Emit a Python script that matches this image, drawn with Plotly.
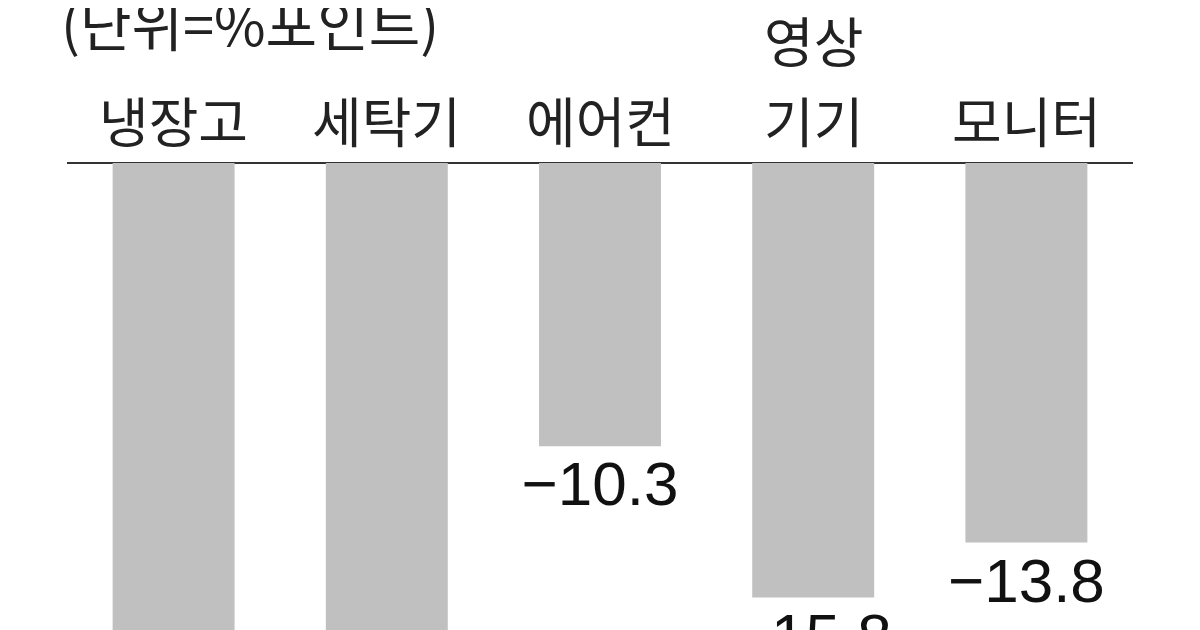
import plotly.graph_objects as go

# 품목별 변화 (단위=%포인트)
categories = ["냉장고", "세탁기", "에어컨", "영상기기", "모니터"]
labels = ["냉장고", "세탁기", "에어컨", "영상<br>기기", "모니터"]
values = [-18.2, -17.6, -10.3, -15.8, -13.8]
unit_note = "(단위=%포인트)"

kr_font = "Noto Sans CJK KR"
num_font = "Liberation Sans, Arial"

value_text = [("−" if v < 0 else "") + f"{abs(v):.1f}" for v in values]

fig = go.Figure()
fig.add_trace(go.Bar(
    x=categories,
    y=values,
    marker=dict(color="#c0c0c0", line=dict(width=0)),
    text=value_text,
    textposition="outside",
    textfont=dict(family=num_font, size=62, color="#111111"),
    constraintext="none",
    cliponaxis=False,
    hoverinfo="skip",
))

# 품목 이름은 기준선 위에 (두 줄 이름은 줄마다 따로)
for cat, lab in zip(categories, labels):
    lines = lab.split("<br>")
    for i, line in enumerate(reversed(lines)):
        fig.add_annotation(
            x=cat, y=0, xref="x", yref="y",
            text=line, showarrow=False,
            yanchor="bottom", yshift=2 + i * 80,
            font=dict(family=kr_font, size=54, color="#222222"),
        )

fig.add_annotation(
    x=0, y=1, xref="paper", yref="paper",
    xanchor="left", yanchor="bottom", xshift=-8, yshift=-56,
    text=unit_note, showarrow=False,
    font=dict(family=kr_font, size=56, color="#222222"),
)

fig.update_layout(
    width=1200, height=630,
    margin=dict(l=59, r=75, t=0, b=0),
    paper_bgcolor="white",
    plot_bgcolor="white",
    bargap=0.428,
    showlegend=False,
    xaxis=dict(visible=False),
    yaxis=dict(
        range=[-17.27, 5.64],
        showgrid=False,
        showticklabels=False,
        zeroline=True,
        zerolinecolor="#333333",
        zerolinewidth=2,
    ),
)

fig.write_html("out.html")
